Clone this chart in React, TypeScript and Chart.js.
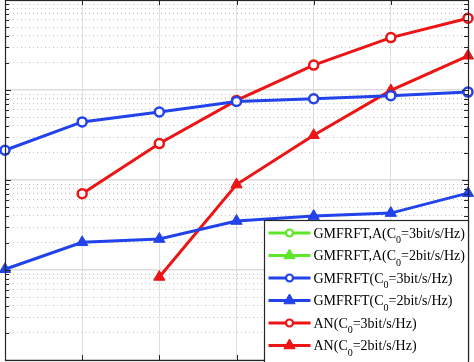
import React, { useEffect, useRef } from 'react';
import { Chart, registerables } from 'chart.js';

Chart.register(...registerables);

// ---- data ----
const X_LABELS = ['0', '2', '4', '6', '8', '10', '12'];
const GMFRFT_A_3: (number | null)[] = [null, null, null, null, null, null, null];
const GMFRFT_A_2: (number | null)[] = [null, null, null, null, null, null, null];
const GMFRFT_3: (number | null)[] = [2.14e-3, 4.42e-3, 5.7e-3, 7.46e-3, 8.0e-3, 8.63e-3, 9.48e-3];
const GMFRFT_2: (number | null)[] = [1.02e-4, 2.03e-4, 2.21e-4, 3.5e-4, 3.97e-4, 4.29e-4, 7.14e-4];
const AN_3: (number | null)[] = [null, 7.03e-4, 2.54e-3, 7.66e-3, 1.89e-2, 3.82e-2, 6.27e-2];
const AN_2: (number | null)[] = [null, null, 8.37e-5, 8.9e-4, 3.14e-3, 9.89e-3, 2.4e-2];
const LEGEND_LABELS = [
  'GMFRFT,A(C_0=3bit/s/Hz)',
  'GMFRFT,A(C_0=2bit/s/Hz)',
  'GMFRFT(C_0=3bit/s/Hz)',
  'GMFRFT(C_0=2bit/s/Hz)',
  'AN(C_0=3bit/s/Hz)',
  'AN(C_0=2bit/s/Hz)',
];
const Y_MIN_EXP = -5;
const Y_MAX_EXP = -1;

const GREEN = '#5fe62a';
const BLUE = '#2242ea';
const RED = '#ec1414';

const isDecade = (v: number | undefined) => {
  if (v === undefined || v === null) return false;
  const l = Math.log10(v);
  return Math.abs(l - Math.round(l)) < 1e-6;
};

function drawMarker(ctx: CanvasRenderingContext2D, style: string, x: number, y: number, r: number, color: string, fill: string, bw: number) {
  ctx.save();
  ctx.lineWidth = bw;
  ctx.strokeStyle = color;
  ctx.fillStyle = fill;
  ctx.beginPath();
  if (style === 'triangle') {
    for (let k = 0; k < 3; k++) {
      const a = (k * 2 * Math.PI) / 3;
      const px = x + Math.sin(a) * r;
      const py = y - Math.cos(a) * r;
      if (k === 0) ctx.moveTo(px, py);
      else ctx.lineTo(px, py);
    }
    ctx.closePath();
  } else {
    ctx.arc(x, y, r, 0, Math.PI * 2);
  }
  ctx.fill();
  ctx.stroke();
  ctx.restore();
}

const framePlugin = {
  id: 'frameTicks',
  afterDatasetsDraw(chart: any) {
    const { ctx, chartArea: a } = chart;
    const xs = chart.scales.x;
    const ys = chart.scales.y;
    ctx.save();
    ctx.strokeStyle = '#262626';
    ctx.lineWidth = 1;
    ctx.beginPath();
    ys.ticks.forEach((t: any) => {
      const py = Math.round(ys.getPixelForValue(t.value)) + 0.5;
      const len = isDecade(t.value) ? 6 : 4;
      ctx.moveTo(a.left, py);
      ctx.lineTo(a.left + len, py);
      ctx.moveTo(a.right, py);
      ctx.lineTo(a.right - len, py);
    });
    xs.ticks.forEach((_t: any, i: number) => {
      const px = Math.round(xs.getPixelForValue(i)) + 0.5;
      ctx.moveTo(px, a.top);
      ctx.lineTo(px, a.top + 5);
      ctx.moveTo(px, a.bottom);
      ctx.lineTo(px, a.bottom - 5);
    });
    ctx.stroke();
    ctx.lineWidth = 1.2;
    ctx.strokeRect(Math.round(a.left) + 0.5, Math.round(a.top) + 0.5, Math.round(a.right - a.left), Math.round(a.bottom - a.top));
    ctx.restore();
  },
};

const legendPlugin = {
  id: 'boxLegend',
  afterDraw(chart: any) {
    const { ctx, chartArea: a } = chart;
    const x0 = 264.5;
    const y0 = 220.5;
    const x1 = Math.round(a.right) + 0.5;
    const y1 = chart.height + 4;
    ctx.save();
    ctx.fillStyle = '#ffffff';
    ctx.fillRect(x0, y0, x1 - x0, y1 - y0);
    ctx.strokeStyle = '#262626';
    ctx.lineWidth = 1.2;
    ctx.strokeRect(x0, y0, x1 - x0, y1 - y0);
    chart.data.datasets.forEach((ds: any, i: number) => {
      const ry = y0 + 12.5 + i * 22.5;
      const color = ds.borderColor;
      ctx.strokeStyle = color;
      ctx.lineWidth = 3;
      ctx.beginPath();
      ctx.moveTo(x0 + 4, ry);
      ctx.lineTo(x0 + 46, ry);
      ctx.stroke();
      if (ds.pointStyle === 'triangle') {
        drawMarker(ctx, 'triangle', x0 + 25, ry, 6.5, color, color, 1);
      } else {
        drawMarker(ctx, 'circle', x0 + 25, ry, 3.5, color, '#ffffff', 2.2);
      }
      const label: string = ds.label;
      const [pre, rest] = label.split('_');
      const sub = rest.charAt(0);
      const post = rest.slice(1);
      let tx = x0 + 49;
      ctx.fillStyle = '#000000';
      ctx.textBaseline = 'alphabetic';
      ctx.textAlign = 'left';
      ctx.font = '14px "Liberation Serif", serif';
      ctx.fillText(pre, tx, ry + 4.6);
      tx += ctx.measureText(pre).width;
      ctx.font = '10px "Liberation Serif", serif';
      ctx.fillText(sub, tx, ry + 10);
      tx += ctx.measureText(sub).width;
      ctx.font = '14px "Liberation Serif", serif';
      ctx.fillText(post, tx, ry + 4.6);
    });
    ctx.restore();
  },
};

export default function App() {
  const ref = useRef<HTMLCanvasElement | null>(null);
  useEffect(() => {
    if (!ref.current) return;
    const mk = (label: string, data: (number | null)[], color: string, style: string) => ({
      label,
      data,
      borderColor: color,
      backgroundColor: style === 'triangle' ? color : '#ffffff',
      pointBackgroundColor: style === 'triangle' ? color : '#ffffff',
      pointBorderColor: color,
      pointStyle: style,
      pointRadius: style === 'triangle' ? 6.5 : 4.5,
      pointBorderWidth: style === 'triangle' ? 1 : 2.5,
      borderWidth: 3,
      spanGaps: false,
      clip: false as any,
      tension: 0,
    });
    const chart = new Chart(ref.current, {
      type: 'line',
      data: {
        labels: X_LABELS,
        datasets: [
          mk(LEGEND_LABELS[0], GMFRFT_A_3, GREEN, 'circle'),
          mk(LEGEND_LABELS[1], GMFRFT_A_2, GREEN, 'triangle'),
          mk(LEGEND_LABELS[2], GMFRFT_3, BLUE, 'circle'),
          mk(LEGEND_LABELS[3], GMFRFT_2, BLUE, 'triangle'),
          mk(LEGEND_LABELS[4], AN_3, RED, 'circle'),
          mk(LEGEND_LABELS[5], AN_2, RED, 'triangle'),
        ],
      },
      options: {
        responsive: false,
        animation: false,
        devicePixelRatio: 1,
        layout: { autoPadding: false, padding: { left: 5, right: 6, top: 0, bottom: 2 } },
        plugins: { legend: { display: false }, tooltip: { enabled: false } },
        scales: {
          x: {
            type: 'category',
            offset: false,
            ticks: { display: false },
            grid: { color: '#dedede', lineWidth: 1, drawTicks: false },
            border: { display: false },
          },
          y: {
            type: 'logarithmic',
            min: Math.pow(10, Y_MIN_EXP),
            max: Math.pow(10, Y_MAX_EXP),
            afterBuildTicks: (scale: any) => {
              const ticks: any[] = [];
              for (let e = Y_MIN_EXP; e <= Y_MAX_EXP; e++) {
                for (let m = 1; m <= 9; m++) {
                  const v = m * Math.pow(10, e);
                  if (v > Math.pow(10, Y_MAX_EXP) * 1.0001) break;
                  ticks.push({ value: v, major: m === 1 });
                }
              }
              scale.ticks = ticks;
            },
            ticks: { display: false },
            grid: {
              drawTicks: false,
              color: (c: any) => (c.tick && isDecade(c.tick.value) ? '#dcdcdc' : '#c4c4c4'),
              lineWidth: (c: any) => (c.tick && isDecade(c.tick.value) ? 1.5 : 1),
            },
            border: {
              display: false,
              dash: (c: any) => (c.tick && !isDecade(c.tick.value) ? [1, 3] : []),
            },
          },
        },
      },
      plugins: [framePlugin, legendPlugin],
    } as any);
    return () => chart.destroy();
  }, []);
  return (
    <div style={{ position: 'absolute', left: 0, top: 0, width: 474, height: 362, background: '#fff' }}>
      <canvas ref={ref} width={474} height={362} style={{ display: 'block' }} />
    </div>
  );
}
